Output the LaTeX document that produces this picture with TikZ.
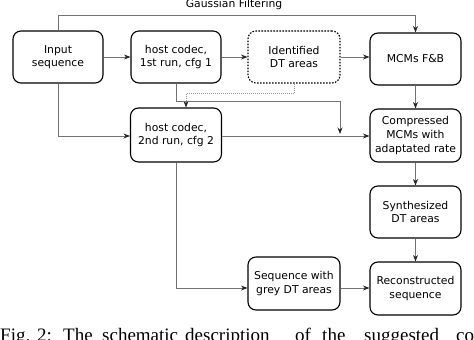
\documentclass[tikz,border=0pt]{standalone}
\usepackage{fontspec}
\setmainfont{DejaVu Sans}
\newfontfamily\capfont{Liberation Serif}
\usetikzlibrary{arrows.meta,calc}
\begin{document}
\begin{tikzpicture}[x=1pt,y=-1pt,
  box/.style={draw=black, line width=1.1pt, rounded corners=8pt, minimum width=91pt, minimum height=52pt, align=center, inner sep=1pt, font=\fontsize{10.8}{13.6}\selectfont},
  dtbox/.style={box, dash pattern=on 1.6pt off 1.4pt},
  conn/.style={draw=black!55, line width=0.8pt, -{Stealth[length=6.5pt,width=5pt,black!85]}},
  dotconn/.style={draw=black!40, line width=0.8pt, dash pattern=on 1pt off 1pt, -{Stealth[length=6.5pt,width=5pt,black!85]}},
  lbl/.style={font=\fontsize{10.8}{13}\selectfont, inner sep=0pt}]
\useasboundingbox (0,0) rectangle (474,340);
\node[box, minimum width=90pt] (in) at (58,57) {Input\\sequence};
\node[box, minimum width=90pt] (h1) at (176,57) {host codec,\\1st run, cfg 1};
\node[dtbox, minimum width=92pt] (dt) at (294,57) {Identified\\DT areas};
\node[box] (mcm) at (415.5,59) {MCMs F\&B};
\node[box, minimum height=54pt] (h2) at (176,135) {host codec,\\2nd run, cfg 2};
\node[box, minimum height=53pt] (cmp) at (415.5,135.5) {Compressed\\MCMs with\\adaptated rate};
\node[box] (syn) at (415.5,212) {Synthesized\\DT areas};
\node[box, minimum width=92pt, minimum height=53pt] (seq) at (294,283.5) {Sequence with\\grey DT areas};
\node[box, minimum height=53pt] (rec) at (415.5,288.5) {Reconstructed\\sequence};
\node[lbl, anchor=base] (gf) at (234,8) {Gaussian Filtering};
\node[anchor=base west, inner sep=0pt, font=\capfont\fontsize{19}{21}\selectfont] (cap) at (0,341)
  {\rlap{Fig.}\hspace*{37pt}\rlap{2:}\hspace*{26pt}\rlap{The}\hspace*{39pt}\rlap{schematic}\hspace*{83pt}\rlap{description}\hspace*{110pt}\rlap{of}\hspace*{27pt}\rlap{the}\hspace*{42pt}\rlap{suggested}\hspace*{92pt}\rlap{coding}};
\coordinate (gl) at (58,15);
\coordinate (j1) at (340,101);
\coordinate (j2) at (340,134);
\draw[conn] (in.north) -- (gl) -| (mcm.north);
\draw[conn] (in.east) -- (h1.west);
\draw[conn] (h1.east) -- (dt.west);
\draw[conn] (dt.east) -- (dt.east -| mcm.west);
\draw[conn] (mcm.south) -- (cmp.north);
\draw[dotconn] (dt.south) |- ($(h2.north)+(10,-14)$) -- ($(h2.north)+(10,0)$);
\draw[conn] (h1.south) |- (j1) -- (j2);
\draw[conn] (in.south) |- ($(h2.west)+(0,1)$);
\draw[conn] ($(h2.east)+(0,1)$) -- ($(h2.east -| cmp.west)+(0,1)$);
\draw[conn] (cmp.south) -- (syn.north);
\draw[conn] (syn.south) -- (rec.north);
\draw[conn] (h2.south) |- ($(seq.west)+(0,4.5)$);
\draw[conn] ($(seq.east)+(0,4.5)$) -- ($(seq.east -| rec.west)+(0,4.5)$);
\end{tikzpicture}
\end{document}
